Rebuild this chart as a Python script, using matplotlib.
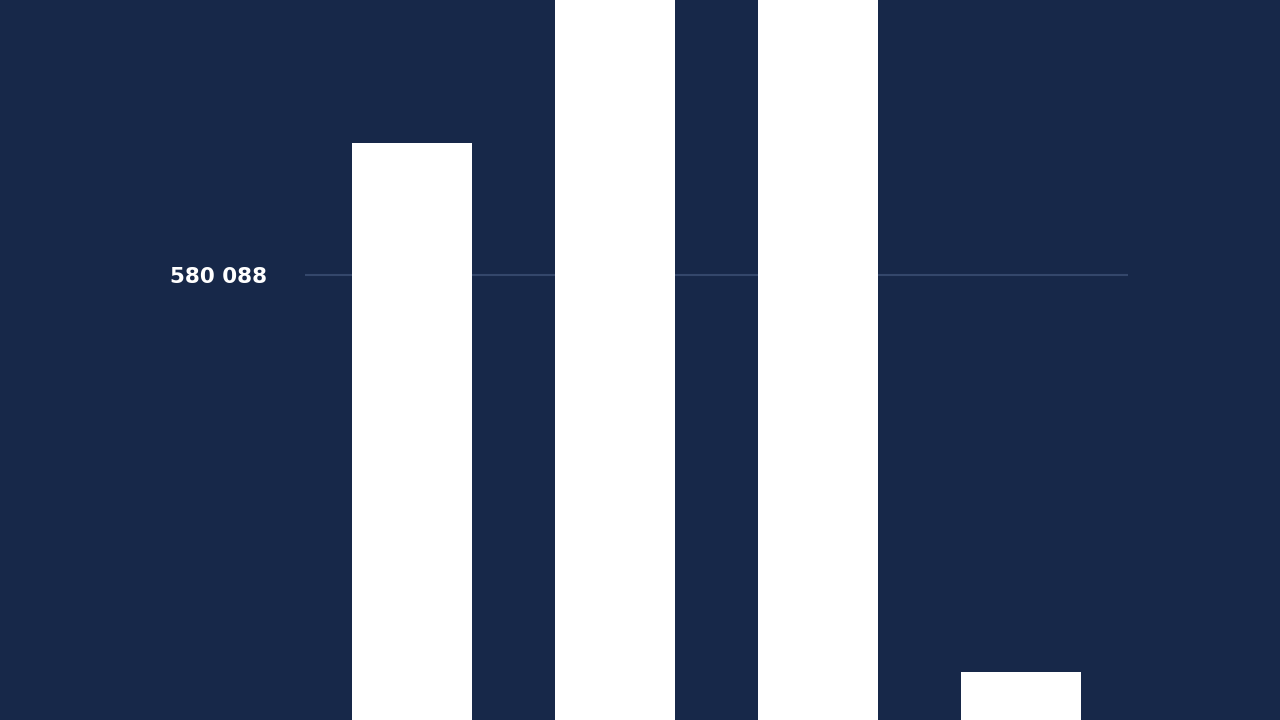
import matplotlib
matplotlib.use("Agg")
import matplotlib.pyplot as plt

categories = ["A", "B", "C", "D"]
values = [752000, 1050000, 1120000, 62600]
tick_values = [580088]
tick_labels = ["580 088"]

BG = "#172849"

fig = plt.figure(figsize=(12.8, 7.2), dpi=100, facecolor=BG)
ax = fig.add_axes([305 / 1280, 0.0, (1128 - 305) / 1280, 1.0])
ax.set_facecolor(BG)

x = list(range(len(categories)))
ax.bar(x, values, width=0.591, color="white", zorder=3)

ax.set_xlim(-0.527, 3.527)
ax.set_ylim(0, 938600)

ax.set_yticks(tick_values)
ax.set_yticklabels(tick_labels, color="white", fontsize=15.5, fontweight="semibold")
ax.tick_params(axis="y", length=0, pad=27)
ax.set_xticks([])
ax.grid(axis="y", color="#34476b", linewidth=1.5, zorder=1)
for s in ax.spines.values():
    s.set_visible(False)

fig.savefig("out.png", dpi=100, facecolor=BG)
